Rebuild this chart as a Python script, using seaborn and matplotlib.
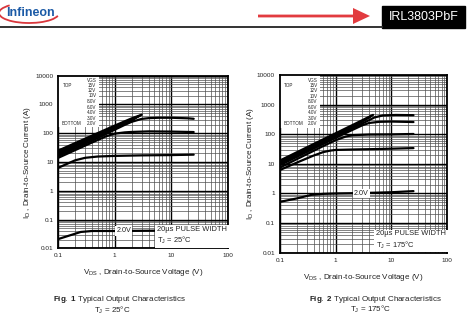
import numpy as np
import pandas as pd
import matplotlib
matplotlib.use("Agg")
import matplotlib.pyplot as plt
import seaborn as sns
from matplotlib import patches
from matplotlib.lines import Line2D
from matplotlib.ticker import LogLocator, NullFormatter

# ---------------- data ----------------
vgs_labels = ["15V", "12V", "10V", "8.0V", "6.0V", "4.0V", "3.0V", "2.0V"]

x_ticks = [0.1, 1, 10, 100]
x_tick_labels = ["0.1", "1", "10", "100"]
y_ticks = [0.01, 0.1, 1, 10, 100, 1000, 10000]
y_tick_labels = ["0.01", "0.1", "1", "10", "100", "1000", "10000"]

# Fig. 1, Tj = 25 C
f1_15_x = [0.1, 1, 2, 3.0];          f1_15_y = [25, 185, 330, 440]
f1_12_x = [0.1, 1, 2, 2.8];          f1_12_y = [22, 170, 305, 405]
f1_10_x = [0.1, 1, 2, 2.6];          f1_10_y = [20, 158, 290, 380]
f1_8_x = [0.1, 1, 2, 2.4];           f1_8_y = [18, 147, 272, 355]
f1_6_x = [0.1, 0.5, 1, 1.5, 2, 3, 4, 6, 10, 20, 25]
f1_6_y = [16, 68, 133, 195, 250, 315, 335, 345, 345, 330, 318]
f1_4_x = [0.1, 0.2, 0.4, 0.7, 1, 1.5, 2, 4, 10, 20, 25]
f1_4_y = [14, 26, 48, 78, 97, 107, 111, 116, 114, 111, 110]
f1_3_x = [0.1, 0.15, 0.2, 0.3, 0.5, 1, 3, 10, 25]
f1_3_y = [6.3, 9, 11.5, 14, 15.5, 16.3, 17, 17.4, 18]
f1_2_x = [0.1, 0.25, 0.4, 1, 5, 25]
f1_2_y = [0.021, 0.037, 0.040, 0.040, 0.041, 0.042]

# Fig. 2, Tj = 175 C
f2_15_x = [0.1, 1, 2, 4.7];          f2_15_y = [13, 108, 204, 450]
f2_12_x = [0.1, 1, 2, 4.4];          f2_12_y = [12, 99, 187, 415]
f2_10_x = [0.1, 1, 2, 4.1];          f2_10_y = [11, 91, 172, 380]
f2_8_x = [0.1, 1, 2, 3.5, 5, 7, 12, 25]
f2_8_y = [10, 84, 158, 265, 370, 430, 448, 440]
f2_6_x = [0.1, 1, 2, 3, 4, 6, 10, 25]
f2_6_y = [9, 76, 140, 200, 240, 262, 268, 258]
f2_4_x = [0.1, 0.3, 0.6, 1, 1.5, 2, 4, 10, 25]
f2_4_y = [7.5, 21, 40, 63, 83, 93, 98, 99, 102]
f2_3_x = [0.1, 0.2, 0.4, 0.6, 0.8, 1, 2, 5, 10, 25]
f2_3_y = [6.2, 11, 19, 25, 28, 29.5, 30.5, 31.5, 32.5, 34]
f2_2_x = [0.1, 0.2, 0.37, 0.6, 1, 2, 5, 10, 25]
f2_2_y = [0.52, 0.68, 0.9, 0.97, 1.0, 1.02, 1.06, 1.1, 1.2]

fig1_curves = [(f1_15_x, f1_15_y), (f1_12_x, f1_12_y), (f1_10_x, f1_10_y), (f1_8_x, f1_8_y),
               (f1_6_x, f1_6_y), (f1_4_x, f1_4_y), (f1_3_x, f1_3_y), (f1_2_x, f1_2_y)]
fig2_curves = [(f2_15_x, f2_15_y), (f2_12_x, f2_12_y), (f2_10_x, f2_10_y), (f2_8_x, f2_8_y),
               (f2_6_x, f2_6_y), (f2_4_x, f2_4_y), (f2_3_x, f2_3_y), (f2_2_x, f2_2_y)]


def to_long(curves):
    rows = []
    for lab, (xs, ys) in zip(vgs_labels, curves):
        for xv, yv in zip(xs, ys):
            rows.append({"vgs": lab, "vds": xv, "id": yv})
    return pd.DataFrame(rows)


df1 = to_long(fig1_curves)
df2 = to_long(fig2_curves)

# ---------------- style ----------------
sns.set_style("white")
plt.rcParams["font.family"] = ["Liberation Sans", "DejaVu Sans"]
plt.rcParams["mathtext.fontset"] = "custom"
plt.rcParams["mathtext.rm"] = "Liberation Sans"
plt.rcParams["mathtext.it"] = "Liberation Sans"
plt.rcParams["mathtext.bf"] = "Liberation Sans:bold"
plt.rcParams["mathtext.default"] = "regular"

W, H = 474, 324
TXT = "#222222"


def fx(px):
    return px / W


def fy(py):
    return 1 - py / H


fig = plt.figure(figsize=(W / 100, H / 100), dpi=100)
fig.patch.set_facecolor("white")

# ---------------- header ----------------
fig.text(fx(6), fy(12.5), "Infineon", color="#1b5aa6", fontsize=9, fontweight="bold",
         ha="left", va="center")
fig.add_artist(patches.Arc((fx(29), fy(13)), fx(60), 20 / H, theta1=150, theta2=352,
                           transform=fig.transFigure, color="#d9373c", lw=1.3))
arrow_pts = [(258, 14.6), (353, 14.6), (353, 8), (370, 16), (353, 24), (353, 17.4), (258, 17.4)]
fig.add_artist(patches.Polygon([(fx(a), fy(b)) for a, b in arrow_pts], closed=True,
                               transform=fig.transFigure, color="#e23b3f", lw=0))
fig.add_artist(Line2D([0, fx(382)], [fy(27), fy(27)], transform=fig.transFigure,
                      color="#333333", lw=1.4))
fig.add_artist(patches.Rectangle((fx(382), fy(28)), 83 / W, 22 / H,
                                 transform=fig.transFigure, color="black"))
fig.text(fx(423.5), fy(17), "IRL3803PbF", color="white", fontsize=9, ha="center", va="center")


# ---------------- plots ----------------
def make_axes(rect_px, df, ylabel_x, xlabel_y, label20, temp_txt):
    l, t, r, b = rect_px
    ax = fig.add_axes([fx(l), fy(b), (r - l) / W, (b - t) / H])
    ax.set_xscale("log")
    ax.set_yscale("log")
    sns.lineplot(data=df, x="vds", y="id", units="vgs", estimator=None, color="black",
                 lw=1.6, legend=False, ax=ax, zorder=3)
    ax.set_xlim(0.1, 100)
    ax.set_ylim(0.01, 10000)
    ax.set_xticks(x_ticks, x_tick_labels)
    ax.set_yticks(y_ticks, y_tick_labels)
    ax.xaxis.set_minor_locator(LogLocator(base=10, subs=np.arange(2, 10), numticks=20))
    ax.yaxis.set_minor_locator(LogLocator(base=10, subs=np.arange(2, 10), numticks=20))
    ax.xaxis.set_minor_formatter(NullFormatter())
    ax.yaxis.set_minor_formatter(NullFormatter())
    ax.tick_params(which="both", length=0, labelsize=4.6, pad=3.6, colors=TXT)
    ax.set_axisbelow(True)
    ax.grid(which="major", color="black", lw=1.0)
    ax.grid(which="minor", color="#505050", lw=0.5)
    for s in ax.spines.values():
        s.set_color("black")
        s.set_linewidth(1.3)
        s.set_visible(True)
    ax.set_xlabel("V$_{DS}$ , Drain-to-Source Voltage (V)", fontsize=5.8, color=TXT)
    ax.set_ylabel("I$_D$ , Drain-to-Source Current (A)", fontsize=5.8, color=TXT)
    ax.yaxis.set_label_coords(ylabel_x, 0.5)
    ax.xaxis.set_label_coords(0.5, xlabel_y)

    # legend area (white block covering grid)
    ax.add_patch(patches.Rectangle((0, 0.70), 0.24, 0.30, transform=ax.transAxes,
                                   color="white", lw=0, zorder=1))
    ht = b - t
    ys_px = [80.5, 85.7, 90.7, 96.0, 101.6, 107.2, 112.8, 118.3, 123.6]
    labels = ["VGS"] + vgs_labels
    for lab, ypx in zip(labels, ys_px):
        ax.text(0.225, 1 - (ypx - t) / ht, lab, transform=ax.transAxes, fontsize=3.3,
                ha="right", va="center", color=TXT, zorder=4)
    ax.text(0.025, 1 - (85.7 - t) / ht, "TOP", transform=ax.transAxes, fontsize=3.3,
            ha="left", va="center", color=TXT, zorder=4)
    ax.text(0.022, 1 - (123.6 - t) / ht, "BOTTOM", transform=ax.transAxes, fontsize=3.3,
            ha="left", va="center", color=TXT, zorder=4)

    # 2.0V label
    ax.text(label20[0], label20[1], "2.0V", fontsize=5.2, ha="center", va="center", color=TXT,
            zorder=5, bbox=dict(boxstyle="square,pad=0.15", fc="white", ec="none"))
    # pulse width box
    ax.text(0.995, 0.012, "20µs PULSE WIDTH\nT$_J$ = " + temp_txt, transform=ax.transAxes,
            fontsize=5.4, ha="right", va="bottom", multialignment="left", color=TXT,
            linespacing=1.25, zorder=5,
            bbox=dict(boxstyle="square,pad=0.25", fc="white", ec="none"))
    return ax


ax1 = make_axes((58.3, 75.7, 227.7, 248.3), df1, -0.15, -0.108, (1.45, 0.040), "25°C")
ax2 = make_axes((280, 75, 447, 252.7), df2, -0.145, -0.109, (2.9, 1.0), "175°C")

# ---------------- captions ----------------
fig.text(fx(119.5), fy(299.5), r"$\bf{Fig.\ 1}$ Typical Output Characteristics", fontsize=5.8,
         ha="center", va="center", color=TXT)
fig.text(fx(112.5), fy(310), "T$_J$ = 25°C", fontsize=5.8, ha="center", va="center", color=TXT)
fig.text(fx(375.5), fy(299.5), r"$\bf{Fig.\ 2}$ Typical Output Characteristics", fontsize=5.8,
         ha="center", va="center", color=TXT)
fig.text(fx(371), fy(309.5), "T$_J$ = 175°C", fontsize=5.8, ha="center", va="center", color=TXT)

fig.savefig("out.png", dpi=100, facecolor="white")
